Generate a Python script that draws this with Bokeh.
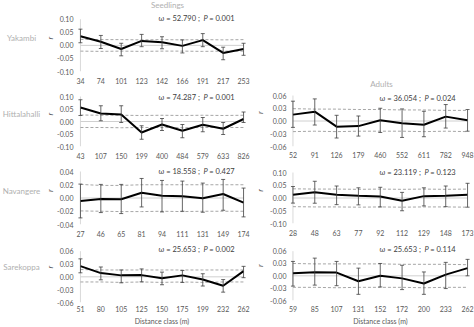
import math
from bokeh.plotting import figure
from bokeh.layouts import column, row
from bokeh.models import (Range1d, FixedTicker, NumeralTickFormatter, Label,
                          Whisker, TeeHead, ColumnDataSource, Spacer)
from bokeh.core.properties import value
from bokeh.embed import file_html
from bokeh.resources import INLINE

FONT = "Lato"
DARK = "#595959"
LIGHT = "#b0b0b0"

# ---------------- Seedlings ----------------
yak_s_labels = ["34", "74", "101", "123", "142", "166", "191", "217", "253"]
yak_s_r = [0.035, 0.014, -0.014, 0.017, 0.012, -0.002, 0.020, -0.029, -0.014]
yak_s_hi = [0.062, 0.038, 0.008, 0.042, 0.033, 0.021, 0.045, -0.007, 0.008]
yak_s_lo = [0.010, -0.012, -0.040, -0.005, -0.013, -0.029, -0.005, -0.055, -0.038]
yak_s_U = [0.023, 0.022, 0.022, 0.021, 0.022, 0.021, 0.022, 0.021, 0.022]
yak_s_L = [-0.022, -0.023, -0.022, -0.023, -0.022, -0.022, -0.023, -0.022, -0.022]
yak_s_ticks = [-0.10, -0.05, 0.0, 0.05, 0.10]
yak_s_stat = ("52.790", "0.001")

hit_s_labels = ["43", "107", "150", "199", "400", "484", "579", "633", "826"]
hit_s_r = [0.056, 0.032, 0.028, -0.044, -0.012, -0.037, -0.013, -0.029, 0.010]
hit_s_hi = [0.087, 0.063, 0.063, -0.017, 0.012, -0.012, 0.016, -0.004, 0.038]
hit_s_lo = [0.024, 0.003, -0.004, -0.071, -0.036, -0.065, -0.041, -0.052, -0.004]
hit_s_U = [0.026, 0.025, 0.025, 0.024, 0.025, 0.024, 0.025, 0.024, 0.025]
hit_s_L = [-0.024, -0.024, -0.025, -0.024, -0.024, -0.025, -0.024, -0.024, -0.024]
hit_s_ticks = [-0.10, -0.05, 0.0, 0.05, 0.10]
hit_s_stat = ("74.287", "0.001")

nav_s_labels = ["27", "46", "65", "81", "94", "111", "131", "149", "174"]
nav_s_r = [-0.0045, -0.0015, -0.002, 0.008, 0.0035, 0.0025, -0.0005, 0.006, -0.007]
nav_s_hi = [0.021, 0.0205, 0.0205, 0.0295, 0.0265, 0.0255, 0.0225, 0.028, 0.015]
nav_s_lo = [-0.030, -0.022, -0.0235, -0.0135, -0.021, -0.020, -0.0215, -0.0185, -0.0285]
nav_s_U = [0.0205, 0.019, 0.019, 0.020, 0.020, 0.020, 0.020, 0.020, 0.020]
nav_s_L = [-0.0195, -0.020, -0.0205, -0.0205, -0.020, -0.0205, -0.020, -0.020, -0.020]
nav_s_ticks = [-0.04, -0.02, 0.0, 0.02, 0.04]
nav_s_stat = ("18.558", "0.427")

sar_s_labels = ["51", "80", "105", "125", "150", "175", "199", "232", "262"]
sar_s_r = [0.025, 0.0087, 0.0034, 0.004, -0.0034, 0.0034, -0.0064, -0.0208, 0.0132]
sar_s_hi = [0.042, 0.023, 0.016, 0.0185, 0.011, 0.0147, 0.0072, -0.0064, 0.0245]
sar_s_lo = [0.0094, -0.007, -0.014, -0.0117, -0.0185, -0.0132, -0.0215, -0.0358, -0.002]
sar_s_U = [0.017, 0.016, 0.016, 0.016, 0.016, 0.016, 0.016, 0.016, 0.016]
sar_s_L = [-0.012, -0.012, -0.013, -0.012, -0.013, -0.012, -0.013, -0.012, -0.012]
sar_s_ticks = [-0.06, -0.03, 0.0, 0.03, 0.06]
sar_s_stat = ("25.653", "0.002")

# ---------------- Adults ----------------
hit_a_labels = ["52", "91", "126", "179", "460", "552", "611", "782", "948"]
hit_a_r = [0.015, 0.022, -0.0134, -0.012, 0.0016, -0.0055, -0.0087, 0.0103, 0.0016]
hit_a_hi = [0.0466, 0.052, 0.0134, 0.0118, 0.030, 0.0284, 0.0229, 0.0387, 0.027]
hit_a_lo = [-0.015, -0.0095, -0.040, -0.0355, -0.027, -0.0387, -0.037, -0.0166, -0.024]
hit_a_U = [0.029, 0.028, 0.028, 0.027, 0.027, 0.026, 0.026, 0.025, 0.025]
hit_a_L = [-0.025, -0.024, -0.025, -0.024, -0.024, -0.024, -0.025, -0.024, -0.025]
hit_a_ticks = [-0.06, -0.03, 0.0, 0.03, 0.06]
hit_a_stat = ("36.054", "0.024")

nav_a_labels = ["28", "48", "63", "77", "92", "112", "129", "148", "173"]
nav_a_r = [0.0126, 0.023, 0.0126, 0.0086, 0.006, -0.011, 0.0073, 0.0086, 0.0126]
nav_a_hi = [0.045, 0.0656, 0.047, 0.040, 0.042, 0.022, 0.040, 0.047, 0.0576]
nav_a_lo = [-0.020, -0.0205, -0.026, -0.027, -0.035, -0.050, -0.031, -0.034, -0.036]
nav_a_U = [0.036, 0.035, 0.035, 0.034, 0.035, 0.034, 0.035, 0.034, 0.035]
nav_a_L = [-0.034, -0.035, -0.035, -0.036, -0.035, -0.036, -0.035, -0.035, -0.036]
nav_a_ticks = [-0.10, -0.05, 0.0, 0.05, 0.10]
nav_a_stat = ("23.119", "0.123")

sar_a_labels = ["59", "85", "107", "131", "152", "172", "200", "233", "262"]
sar_a_r = [0.0062, 0.0086, 0.0078, -0.0132, 0.0, -0.0062, -0.0187, 0.003, 0.0187]
sar_a_hi = [0.035, 0.043, 0.035, 0.0187, 0.030, 0.0257, 0.0094, 0.0327, 0.040]
sar_a_lo = [-0.025, -0.0226, -0.024, -0.045, -0.027, -0.0335, -0.045, -0.031, 0.0]
sar_a_U = [0.030, 0.029, 0.029, 0.029, 0.029, 0.028, 0.028, 0.028, 0.027]
sar_a_L = [-0.028, -0.028, -0.029, -0.028, -0.028, -0.028, -0.029, -0.028, -0.028]
sar_a_ticks = [-0.06, -0.03, 0.0, 0.03, 0.06]
sar_a_stat = ("25.653", "0.114")

sites = ["Yakambi", "Hittalahalli", "Navangere", "Sarekoppa"]

AXW = 19  # width of the y tick-label area (standoff + label width)
STAT_SIZE = 7.5


def lab(p, text, x, y, size="8px", color=DARK, align="center", style="normal"):
    p.add_layout(Label(x=x, y=y, x_units="screen", y_units="screen", text=text,
                       text_font=FONT, text_font_size=size, text_color=color,
                       text_align=align, text_baseline="middle", text_font_style=style))


def yrange_for(ticks, g):
    dpp = (max(ticks) - min(ticks)) / (g["B"] - g["T"])
    return dpp, Range1d(min(ticks), max(ticks) + (g["T"] - g["top"]) * dpp)


def gutter(ticks, g, site):
    GW = g["fl_abs"] - g["left"] - AXW
    H = g["H"]
    dpp = (max(ticks) - min(ticks)) / (g["B"] - g["T"])
    yr = Range1d(min(ticks) - (g["top"] + H - g["B"]) * dpp,
                 max(ticks) + (g["T"] - g["top"]) * dpp)
    p = figure(width=GW, height=H, x_range=Range1d(0, GW), y_range=yr,
               x_axis_type=None, y_axis_type=None, output_backend="svg",
               toolbar_location=None, title=None, min_border=0,
               min_border_left=0, min_border_right=0, min_border_top=0, min_border_bottom=0)
    p.outline_line_color = None
    p.background_fill_color = "white"
    p.border_fill_color = "white"
    if site:
        p.text(x=[21 - g["left"]], y=[0], text=[site], text_font=value(FONT),
               text_font_size="8px", text_color=LIGHT, text_align="center",
               text_baseline="middle")
    p.text(x=[g["rx"] - g["left"]], y=[0], text=["r"], angle=math.pi / 2,
           text_font=value(FONT), text_font_size="8px", text_font_style="italic",
           text_color=DARK, text_align="center", text_baseline="middle")
    return p, GW


def panel(labels, r, hi, lo, U, L, ticks, stat, g, site=None, title=None, xtitle=False):
    gp, GW = gutter(ticks, g, site)
    W = g["W"] - GW
    H = g["H"]
    fb = g["B"] - g["top"]
    fr = g["fr_abs"] - g["left"] - GW
    fl_abs = g["fl_abs"]
    c0, c1 = g["c0"], g["c1"]
    n = len(labels)
    dpx = (n - 1) / (c1 - c0)
    x0 = -(c0 - fl_abs) * dpx
    x1 = (n - 1) + (g["fr_abs"] - c1) * dpx
    dpp, yr = yrange_for(ticks, g)
    p = figure(width=W, height=H, x_range=Range1d(x0, x1), y_range=yr,
               output_backend="svg", toolbar_location=None, title=None,
               min_border_left=0, min_border_right=W - fr,
               min_border_top=0, min_border_bottom=H - fb)
    p.outline_line_color = None
    p.xgrid.visible = False
    p.ygrid.visible = False
    p.background_fill_color = "white"
    p.border_fill_color = "white"

    xs = list(range(n))
    src = ColumnDataSource(dict(x=xs, r=r, hi=hi, lo=lo, U=U, L=L, z=[0.0] * n))

    ax = p.xaxis[0]
    ax.ticker = FixedTicker(ticks=xs)
    ax.major_label_overrides = {i: s for i, s in enumerate(labels)}
    ax.axis_line_color = None
    ax.major_tick_line_color = None
    ax.minor_tick_line_color = None
    ax.major_tick_out = 0
    ax.major_tick_in = 0
    ax.major_label_standoff = g["xs"]
    ax.major_label_text_font = FONT
    ax.major_label_text_font_size = "7px"
    ax.major_label_text_color = DARK
    if xtitle:
        ax.axis_label = "Distance class (m)"
        ax.axis_label_text_font = FONT
        ax.axis_label_text_font_size = "7px"
        ax.axis_label_text_font_style = "normal"
        ax.axis_label_text_color = DARK
        ax.axis_label_standoff = 2

    ay = p.yaxis[0]
    ay.ticker = FixedTicker(ticks=ticks)
    ay.formatter = NumeralTickFormatter(format="0.00")
    ay.axis_line_color = None
    ay.major_tick_line_color = None
    ay.minor_tick_line_color = None
    ay.major_tick_out = 0
    ay.major_tick_in = 0
    ay.major_label_standoff = 2
    ay.major_label_text_font = FONT
    ay.major_label_text_font_size = "7px"
    ay.major_label_text_color = DARK

    p.segment(x0=[xs[0]], y0=[min(ticks)], x1=[xs[0]], y1=[max(ticks)],
              line_color="#d9d9d9", line_width=1)
    p.line("x", "z", source=src, line_color="#d0d0d0", line_width=1)
    p.line("x", "U", source=src, line_color="#a6a6a6", line_width=1, line_dash="3 2")
    p.line("x", "L", source=src, line_color="#a6a6a6", line_width=1, line_dash="3 2")
    p.add_layout(Whisker(source=src, base="x", upper="hi", lower="lo",
                         line_color="#404040", line_width=0.8, level="glyph",
                         upper_head=TeeHead(size=4, line_color="#404040", line_width=0.8),
                         lower_head=TeeHead(size=4, line_color="#404040", line_width=0.8)))
    p.line("x", "r", source=src, line_color="black", line_width=2)

    X = lambda a: a - fl_abs
    Y = lambda b: g["B"] - b

    pc, sy = g["pc"], g["sy"]
    gap = 3.9 * STAT_SIZE / 8
    ss = "%gpx" % STAT_SIZE
    lab(p, "\u03c9 =  " + stat[0] + " ;", X(pc) - gap, Y(sy), size=ss, align="right", color="#404040")
    lab(p, "P", X(pc), Y(sy), size=ss, style="italic", color="#404040")
    lab(p, "= " + stat[1], X(pc) + gap, Y(sy), size=ss, align="left", color="#404040")
    if title:
        t, tx, ty = title
        lab(p, t, X(tx), Y(ty), color=LIGHT)
    return row(gp, p, spacing=0)


LG = dict(W=252, left=0, fl_abs=73, fr_abs=248, c0=78, c1=243, pc=203, rx=49)
RG = dict(W=222, left=252, fl_abs=286, fr_abs=472, c0=290.5, c1=467, pc=424, rx=259)

g1 = dict(LG, top=0, H=86, T=19, B=72, xs=6, sy=19.3)
g2 = dict(LG, top=86, H=76, T=96, B=146, xs=6, sy=96.7)
g3 = dict(LG, top=162, H=78, T=171, B=224, xs=6, sy=171)
g4 = dict(LG, top=240, H=87, T=251, B=304, xs=3, sy=251)

r2 = dict(RG, top=76, H=86, T=95, B=146, xs=5, sy=98.3)
r3 = dict(RG, top=162, H=78, T=172, B=223, xs=6, sy=171.7)
r4 = dict(RG, top=240, H=87, T=251, B=302, xs=5, sy=251)

pL1 = panel(yak_s_labels, yak_s_r, yak_s_hi, yak_s_lo, yak_s_U, yak_s_L, yak_s_ticks, yak_s_stat,
            g1, site=sites[0], title=("Seedlings", 165, 5))
pL2 = panel(hit_s_labels, hit_s_r, hit_s_hi, hit_s_lo, hit_s_U, hit_s_L, hit_s_ticks, hit_s_stat,
            g2, site=sites[1])
pL3 = panel(nav_s_labels, nav_s_r, nav_s_hi, nav_s_lo, nav_s_U, nav_s_L, nav_s_ticks, nav_s_stat,
            g3, site=sites[2])
pL4 = panel(sar_s_labels, sar_s_r, sar_s_hi, sar_s_lo, sar_s_U, sar_s_L, sar_s_ticks, sar_s_stat,
            g4, site=sites[3], xtitle=True)

pR2 = panel(hit_a_labels, hit_a_r, hit_a_hi, hit_a_lo, hit_a_U, hit_a_L, hit_a_ticks, hit_a_stat,
            r2, title=("Adults", 379, 83.3))
pR3 = panel(nav_a_labels, nav_a_r, nav_a_hi, nav_a_lo, nav_a_U, nav_a_L, nav_a_ticks, nav_a_stat, r3)
pR4 = panel(sar_a_labels, sar_a_r, sar_a_hi, sar_a_lo, sar_a_U, sar_a_L, sar_a_ticks, sar_a_stat,
            r4, xtitle=True)

left_col = column(pL1, pL2, pL3, pL4, spacing=0)
right_col = column(Spacer(width=222, height=76), pR2, pR3, pR4, spacing=0)
layout = row(left_col, right_col, spacing=0)

open("out.html", "w").write(file_html(layout, INLINE))
